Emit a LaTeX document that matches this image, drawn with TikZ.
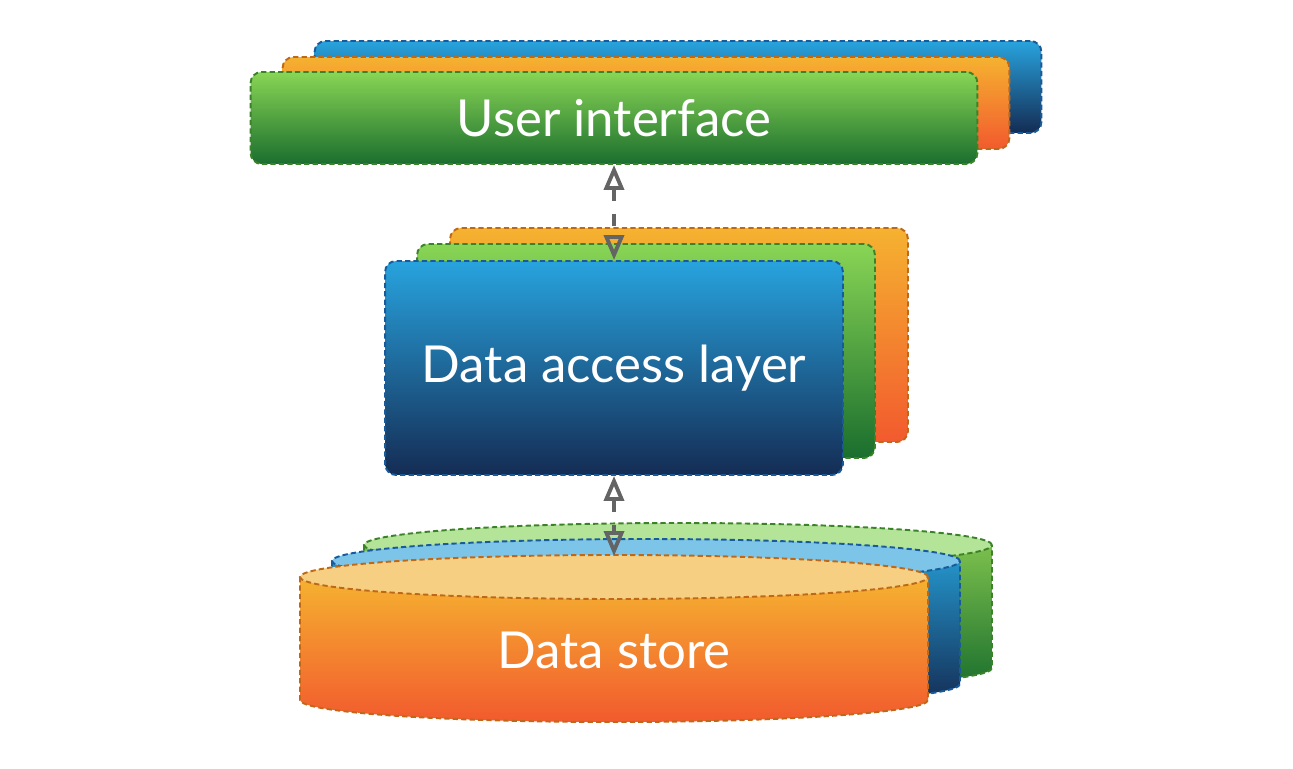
\documentclass[tikz,border=0pt]{standalone}
\usepackage{fontspec}
\setmainfont{Lato}
\usepackage{xcolor}
\usetikzlibrary{arrows.meta}

\definecolor{grntop}{RGB}{137,213,85}
\definecolor{grnbot}{RGB}{26,110,46}
\definecolor{grnlid}{RGB}{180,228,152}
\definecolor{grnline}{RGB}{60,130,40}
\definecolor{orgtop}{RGB}{245,178,48}
\definecolor{orgbot}{RGB}{242,90,46}
\definecolor{orglid}{RGB}{247,207,130}
\definecolor{orgline}{RGB}{190,105,25}
\definecolor{blutop}{RGB}{40,163,222}
\definecolor{blubot}{RGB}{20,44,84}
\definecolor{blulid}{RGB}{124,196,232}
\definecolor{bluline}{RGB}{25,90,155}
\definecolor{linkgray}{RGB}{100,100,100}

% one disc of the data store: centre x, top y, lid, top, bottom, line colour
\newcommand{\drum}[6]{%
  \shade[top color=#4, bottom color=#5] (#1-314,#2) -- (#1-314,#2-123)
    arc[start angle=180, end angle=360, x radius=314, y radius=22] -- (#1+314,#2) -- cycle;
  \draw[drumline, draw=#6] (#1-314,#2) -- (#1-314,#2-123)
    arc[start angle=180, end angle=360, x radius=314, y radius=22] -- (#1+314,#2);
  \filldraw[drumline, fill=#3, draw=#6] (#1,#2) ellipse[x radius=314, y radius=22];
}

\begin{document}
\begin{tikzpicture}[
  x=0.02cm, y=0.02cm,
  layer/.style={draw, dash pattern=on 3pt off 1.8pt, line width=1.1pt, rounded corners=0.22cm,
    inner sep=0pt, text=white, font=\fontsize{29}{34}\selectfont},
  uibox/.style={layer, minimum width=14.54cm, minimum height=1.84cm},
  dalbox/.style={layer, minimum width=9.16cm, minimum height=4.28cm},
  grnshade/.style={top color=grntop, bottom color=grnbot, draw=grnline},
  orgshade/.style={top color=orgtop, bottom color=orgbot, draw=orgline},
  blushade/.style={top color=blutop, bottom color=blubot, draw=bluline},
  drumline/.style={dash pattern=on 3pt off 1.8pt, line width=1.1pt},
  link/.style={{Triangle[open, length=5mm, width=4mm]}-{Triangle[open, length=5mm, width=4mm]},
    line width=2.2pt, dash pattern=on 7pt off 7pt, draw=linkgray}
]
\useasboundingbox (0,0) rectangle (1293,768);

% user interface
\node[uibox, blushade] (ui3) at (678,681) {};
\node[uibox, orgshade] (ui2) at (646,665) {};
\node[uibox, grnshade] (ui) at (614,650) {User interface};

% data access layer
\node[dalbox, orgshade] (dal3) at (679,433) {};
\node[dalbox, grnshade] (dal2) at (646,417) {};
\node[dalbox, blushade] (dal) at (614,400) {Data access layer};

% data store
\drum{678}{223}{grnlid}{grntop!90!black}{grnbot}{grnline}
\drum{646}{207}{blulid}{blutop!90!black}{blubot}{bluline}
\drum{614}{191}{orglid}{orgtop}{orgbot}{orgline}
\node[text=white, font=\fontsize{29}{34}\selectfont] (store) at (614,118) {Data store};
\coordinate (storetop) at (614,212);

\draw[link] (ui) -- (dal);
\draw[link] (dal) -- (storetop);
\end{tikzpicture}
\end{document}
